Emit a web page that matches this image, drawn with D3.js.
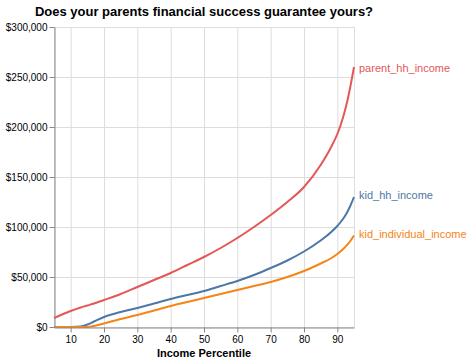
<!DOCTYPE html>
<html>
<head>
<meta charset="utf-8">
<script src="https://cdn.jsdelivr.net/npm/d3@7"></script>
<style>
  html, body { margin: 0; padding: 0; background: #fff; }
  svg { display: block; font-family: "Liberation Sans", Arial, Helvetica, sans-serif; }
</style>
</head>
<body>
<svg id="chart" width="472" height="364"></svg>
<script>
const title = "Does your parents financial success guarantee yours?";
const xTitle = "Income Percentile";
const percentiles = [5, 10, 13, 15, 17, 20, 25, 30, 35, 40, 45, 50, 55, 60, 65, 70, 75, 80, 85, 88, 90, 91, 92, 93, 94, 95];
const parentHH = [9000, 16000, 19500, 21500, 23500, 27000, 33000, 40000, 47000, 54000, 62000, 70000, 79000, 89000, 100000, 112000, 125000, 140000, 162000, 179000, 193000, 202000, 213000, 226000, 242000, 260000];
const kidHH = [0, 0, 500, 2500, 5500, 10000, 15000, 19000, 23500, 28000, 32000, 36000, 41000, 46000, 52000, 59000, 66500, 75500, 86500, 94500, 101000, 105000, 109500, 115000, 122000, 130000];
const kidIndividual = [0, 0, 0, 0, 1000, 3500, 8000, 12000, 16500, 21000, 25000, 29000, 33000, 37000, 41000, 45000, 50000, 56000, 63500, 68500, 73000, 75700, 78800, 82300, 86500, 91500];
const seriesNames = ["parent_hh_income", "kid_hh_income", "kid_individual_income"];
const seriesColors = ["#e45756", "#4c78a8", "#f58518"];
const xTicks = [10, 20, 30, 40, 50, 60, 70, 80, 90];
const yTicks = [0, 50000, 100000, 150000, 200000, 250000, 300000];

const seriesValues = [parentHH, kidHH, kidIndividual];
const labelDy = [5, 2, 2];

const svg = d3.select("#chart");
const m = { left: 54, right: 354, top: 27, bottom: 327 };

const x = d3.scaleLinear().domain([5, 95]).range([m.left, m.right]);
const y = d3.scaleLinear().domain([0, 300000]).range([m.bottom, m.top]);

// grid
const grid = svg.append("g");
grid.selectAll("line.vx").data(xTicks).join("line")
  .attr("x1", d => x(d) + 0.5).attr("x2", d => x(d) + 0.5)
  .attr("y1", m.top).attr("y2", m.bottom)
  .attr("stroke", "#ddd");
grid.selectAll("line.hy").data(yTicks).join("line")
  .attr("x1", m.left).attr("x2", m.right)
  .attr("y1", d => y(d) + 0.5).attr("y2", d => y(d) + 0.5)
  .attr("stroke", "#ddd");
// view border
svg.append("rect")
  .attr("x", m.left + 0.5).attr("y", m.top + 0.5)
  .attr("width", m.right - m.left).attr("height", m.bottom - m.top)
  .attr("fill", "none").attr("stroke", "#ddd");

// lines
const line = d3.line()
  .x((d, i) => x(percentiles[i]))
  .y(d => y(d))
  .curve(d3.curveMonotoneX);

seriesValues.forEach((vals, si) => {
  svg.append("path")
    .datum(vals)
    .attr("fill", "none")
    .attr("stroke", seriesColors[si])
    .attr("stroke-width", 2)
    .attr("d", line);
  svg.append("text")
    .attr("x", x(percentiles[percentiles.length - 1]) + 5)
    .attr("y", y(vals[vals.length - 1]) + labelDy[si])
    .attr("fill", seriesColors[si])
    .attr("font-size", 11)
    .text(seriesNames[si]);
});

// axes
const xAxis = d3.axisBottom(x).tickValues(xTicks).tickSize(5).tickPadding(2).tickSizeOuter(0);
const yAxis = d3.axisLeft(y).tickValues(yTicks).tickSize(5).tickPadding(2).tickSizeOuter(0)
  .tickFormat(d => "$" + d3.format(",")(d));

const gx = svg.append("g").attr("transform", `translate(0,${m.bottom + 0.5})`).call(xAxis);
const gy = svg.append("g").attr("transform", `translate(${m.left + 0.5},0)`).call(yAxis);
[gx, gy].forEach(g => {
  g.select(".domain").attr("stroke", "#888");
  g.selectAll(".tick line").attr("stroke", "#888");
  g.selectAll(".tick text").attr("fill", "#000").attr("font-size", 10)
    .attr("font-family", "'Liberation Sans', Arial, Helvetica, sans-serif");
});
gx.selectAll(".tick text").attr("dy", "0.8em");

svg.append("text")
  .attr("x", (m.left + m.right) / 2)
  .attr("y", 357)
  .attr("text-anchor", "middle")
  .attr("font-size", 11)
  .attr("font-weight", "bold")
  .text(xTitle);

svg.append("text")
  .attr("x", (m.left + m.right) / 2)
  .attr("y", 16)
  .attr("text-anchor", "middle")
  .attr("font-size", 13)
  .attr("font-weight", "bold")
  .text(title);
</script>
</body>
</html>
